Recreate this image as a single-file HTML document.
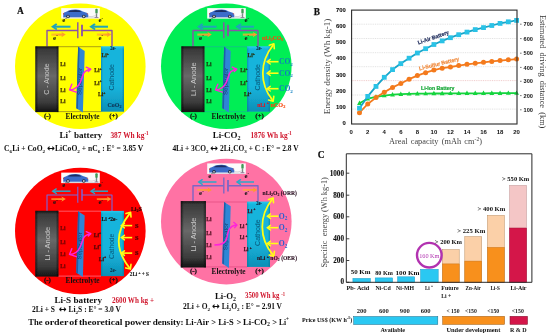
<!DOCTYPE html>
<html lang="en"><head><meta charset="utf-8"><title>Li battery chemistries</title>
<style>html,body{margin:0;padding:0;background:#fff}body{width:550px;height:334px;overflow:hidden}svg{display:block}text{white-space:pre}</style></head><body>
<svg width="550" height="334" viewBox="0 0 550 334">
<defs>
<linearGradient id="anV" x1="0" y1="0" x2="0" y2="1"><stop offset="0" stop-color="#151515"/><stop offset="0.05" stop-color="#3a3a3a"/><stop offset="0.45" stop-color="#686868"/><stop offset="0.85" stop-color="#3c3c3c"/><stop offset="1" stop-color="#121212"/></linearGradient>
<linearGradient id="anH" x1="0" y1="0" x2="1" y2="0"><stop offset="0" stop-color="#000" stop-opacity="0.65"/><stop offset="0.12" stop-color="#000" stop-opacity="0"/><stop offset="0.88" stop-color="#000" stop-opacity="0"/><stop offset="1" stop-color="#000" stop-opacity="0.55"/></linearGradient>
<linearGradient id="cat" x1="0" y1="0" x2="1" y2="0"><stop offset="0" stop-color="#0f93b8"/><stop offset="0.1" stop-color="#14b4dc"/><stop offset="0.9" stop-color="#14b4dc"/><stop offset="1" stop-color="#0f8fb2"/></linearGradient>
<linearGradient id="catV" x1="0" y1="0" x2="0" y2="1"><stop offset="0" stop-color="#3fe0ff" stop-opacity="0.6"/><stop offset="0.06" stop-color="#14b4dc" stop-opacity="0"/><stop offset="0.6" stop-color="#0a6f96" stop-opacity="0.0"/><stop offset="1" stop-color="#0a5f86" stop-opacity="0.45"/></linearGradient>
<linearGradient id="orG" x1="0" y1="0" x2="1" y2="0"><stop offset="0" stop-color="#ffb030" stop-opacity="0.7"/><stop offset="1" stop-color="#ff9a2e"/></linearGradient>
<filter id="soft" x="0" y="0" width="550" height="334" filterUnits="userSpaceOnUse"><feGaussianBlur stdDeviation="0.4"/></filter>
</defs>
<rect width="550" height="334" fill="#ffffff"/>
<g filter="url(#soft)">
<text x="17.00" y="13.70" font-size="9.80" fill="#111" font-weight="bold" font-family="'Liberation Serif', serif" textLength="6.80" lengthAdjust="spacingAndGlyphs" stroke="#111" stroke-width="0.20">A</text>
<g transform="translate(0.00 0.00)">
<ellipse cx="80.3" cy="66.3" rx="65.3" ry="62.8" fill="#ffff00"/>
</g>
<g transform="translate(0.00 0.00)">
<rect x="61.2" y="8.1" width="38.6" height="10.5" fill="#fbfbfb"/>
<rect x="63" y="17.5" width="35.5" height="0.7" fill="#c9c9d2"/>
<path d="M63.2 17.2 L63.3 13.4 Q63.8 12.3 65.8 12 L69.2 10.3 Q72 9.4 76 9.5 Q80.2 9.6 82.8 11.6 L86.6 12.7 Q88.3 13.3 88.3 15 L88.3 17.2 Z" fill="#3b6cc9"/>
<path d="M67.8 11.9 L70.2 10.5 Q73 9.9 76 10 Q79.4 10.1 81.6 11.9 Z" fill="#1d2f63"/>
<circle cx="68" cy="16.5" r="1.8" fill="#222a3a"/><circle cx="68" cy="16.5" r="0.9" fill="#c8ccd6"/>
<circle cx="83.8" cy="16.5" r="1.8" fill="#222a3a"/><circle cx="83.8" cy="16.5" r="0.9" fill="#c8ccd6"/>
<rect x="63" y="13.3" width="1" height="1.1" fill="#d23a3a"/>
<rect x="86.9" y="13.3" width="1.2" height="1" fill="#d86a6a"/>
<rect x="95.3" y="8.8" width="2.4" height="4.6" rx="0.9" fill="#3f9a55"/>
<rect x="95.8" y="13.4" width="1.4" height="4" fill="#7c8a86"/>
<rect x="94.6" y="17" width="3.8" height="0.8" fill="#8a6f96"/>
<path d="M88.5 16.4 Q92 17.2 95.6 15.6" stroke="#9a9aa8" stroke-width="0.4" fill="none"/>
</g>
<g transform="translate(0.00 0.00)">
<path d="M47 46.5 V30.5 H77.8 M82 30.5 H112 V46.5" stroke="#8a52a8" stroke-width="1.40" fill="none" stroke-linejoin="round"/>
<path d="M77.8 22.3 V38.3" stroke="#8a52a8" stroke-width="1.40"/>
<path d="M82 24.8 V36.3" stroke="#8a52a8" stroke-width="1.82"/>
</g>
<path d="M70.50 26.70 L53.50 26.70" stroke="#21a3b9" stroke-width="2.00" fill="none" stroke-linecap="butt"/>
<path d="M56.20 24.40 L52.70 26.70 L56.20 29.00" stroke="#21a3b9" stroke-width="1.90" fill="none" stroke-linejoin="miter" stroke-linecap="round"/>
<path d="M108.00 26.70 L91.80 26.70" stroke="#21a3b9" stroke-width="2.00" fill="none" stroke-linecap="butt"/>
<path d="M94.50 24.40 L91.00 26.70 L94.50 29.00" stroke="#21a3b9" stroke-width="1.90" fill="none" stroke-linejoin="miter" stroke-linecap="round"/>
<rect x="51.30" y="33.50" width="11.42" height="2.20" fill="url(#orG)"/>
<polygon points="61.40,31.90 65.80,34.60 61.40,37.30 62.50,34.60" fill="#ff9a2e"/>
<rect x="96.80" y="33.50" width="11.42" height="2.20" fill="url(#orG)"/>
<polygon points="106.90,31.90 111.30,34.60 106.90,37.30 108.00,34.60" fill="#ff9a2e"/>
<text x="62.20" y="22.40" font-size="7.00" fill="#111" font-weight="bold" font-family="'Liberation Serif', serif" textLength="4.60" lengthAdjust="spacingAndGlyphs">e<tspan dy="-2.52" font-size="4.76">-</tspan></text>
<text x="98.50" y="22.40" font-size="7.00" fill="#111" font-weight="bold" font-family="'Liberation Serif', serif" textLength="4.60" lengthAdjust="spacingAndGlyphs">e<tspan dy="-2.52" font-size="4.76">-</tspan></text>
<text x="53.10" y="39.80" font-size="7.00" fill="#111" font-weight="bold" font-family="'Liberation Serif', serif" textLength="4.60" lengthAdjust="spacingAndGlyphs">e<tspan dy="-2.52" font-size="4.76">-</tspan></text>
<text x="98.50" y="39.80" font-size="7.00" fill="#111" font-weight="bold" font-family="'Liberation Serif', serif" textLength="4.60" lengthAdjust="spacingAndGlyphs">e<tspan dy="-2.52" font-size="4.76">-</tspan></text>
<g transform="translate(0.00 0.00)">
<path d="M58 46.7 H101 M58 111.6 H101" stroke="#8a7a20" stroke-width="0.7" fill="none"/>
<rect x="35.4" y="46.3" width="23.0" height="65.8" fill="url(#anV)"/>
<rect x="35.4" y="46.3" width="23.0" height="65.8" fill="url(#anH)"/>
<polygon points="78.1,46.8 84.7,50.9 82.9,112.6 76.3,108.2" fill="#2f86d6"/>
<polygon points="78.1,46.8 79.6,47.8 77.9,109.3 76.3,108.2" fill="#1f5fa8"/>
<rect x="101" y="46.4" width="23" height="65.2" fill="url(#cat)"/>
<rect x="101" y="46.4" width="23" height="65.2" fill="url(#catV)"/>
</g>
<text x="49.50" y="94.70" font-size="7.20" fill="#c9c9c9" font-weight="normal" font-family="'Liberation Sans', sans-serif" textLength="31.30" lengthAdjust="spacingAndGlyphs" transform="rotate(-90.00 49.50 94.70)">C - Anode</text>
<text x="113.90" y="90.60" font-size="6.90" fill="#0a5578" font-weight="normal" font-family="'Liberation Sans', sans-serif" textLength="26.50" lengthAdjust="spacingAndGlyphs" transform="rotate(-90.00 113.90 90.60)">Cathode</text>
<text x="81.30" y="95.00" font-size="5.40" fill="#163258" font-weight="normal" font-family="'Liberation Sans', sans-serif" textLength="27.00" lengthAdjust="spacingAndGlyphs" transform="rotate(-88.50 81.30 95.00)">Separator</text>
<g transform="translate(0.00 0.00)">
<path d="M69.8 89.9 C74 89.6 78 87.2 80.1 82.7 C82 78.5 82.5 76 83.3 74 C84.5 71.3 87 70 90.4 69.3" stroke="#ff22dd" stroke-width="1.5" fill="none"/>
<path d="M71.8 84.2 L69.5 89.9 L76.3 92.2" stroke="#ff22dd" stroke-width="1.4" fill="none" stroke-linejoin="round" stroke-linecap="round"/>
<path d="M86.2 67.2 L90.8 69.2 L88.3 71.6" stroke="#ff22dd" stroke-width="1.4" fill="none" stroke-linejoin="round" stroke-linecap="round"/>
</g>
<text x="60.30" y="65.70" font-size="6.70" fill="#3a2a00" font-weight="bold" font-family="'Liberation Serif', serif" textLength="5.20" lengthAdjust="spacingAndGlyphs" stroke="#3a2a00" stroke-width="0.25">Li</text>
<text x="60.30" y="79.70" font-size="6.70" fill="#3a2a00" font-weight="bold" font-family="'Liberation Serif', serif" textLength="5.20" lengthAdjust="spacingAndGlyphs" stroke="#3a2a00" stroke-width="0.25">Li</text>
<text x="60.30" y="91.90" font-size="6.70" fill="#3a2a00" font-weight="bold" font-family="'Liberation Serif', serif" textLength="5.20" lengthAdjust="spacingAndGlyphs" stroke="#3a2a00" stroke-width="0.25">Li</text>
<text x="60.30" y="103.20" font-size="6.70" fill="#3a2a00" font-weight="bold" font-family="'Liberation Serif', serif" textLength="5.20" lengthAdjust="spacingAndGlyphs" stroke="#3a2a00" stroke-width="0.25">Li</text>
<text x="43.90" y="117.60" font-size="7.00" fill="#111" font-weight="bold" font-family="'Liberation Serif', serif" textLength="7.10" lengthAdjust="spacingAndGlyphs" stroke="#111" stroke-width="0.25">(-)</text>
<text x="65.60" y="118.70" font-size="7.60" fill="#111" font-weight="bold" font-family="'Liberation Serif', serif" textLength="34.00" lengthAdjust="spacingAndGlyphs">Electrolyte</text>
<text x="109.20" y="117.60" font-size="7.00" fill="#111" font-weight="bold" font-family="'Liberation Serif', serif" textLength="8.60" lengthAdjust="spacingAndGlyphs" stroke="#111" stroke-width="0.25">(+)</text>
<g transform="translate(146.00 0.00)">
<ellipse cx="80.3" cy="66.3" rx="65.3" ry="62.8" fill="#02ee55"/>
</g>
<g transform="translate(146.00 0.00)">
<rect x="61.2" y="8.1" width="38.6" height="10.5" fill="#fbfbfb"/>
<rect x="63" y="17.5" width="35.5" height="0.7" fill="#c9c9d2"/>
<path d="M63.2 17.2 L63.3 13.4 Q63.8 12.3 65.8 12 L69.2 10.3 Q72 9.4 76 9.5 Q80.2 9.6 82.8 11.6 L86.6 12.7 Q88.3 13.3 88.3 15 L88.3 17.2 Z" fill="#3b6cc9"/>
<path d="M67.8 11.9 L70.2 10.5 Q73 9.9 76 10 Q79.4 10.1 81.6 11.9 Z" fill="#1d2f63"/>
<circle cx="68" cy="16.5" r="1.8" fill="#222a3a"/><circle cx="68" cy="16.5" r="0.9" fill="#c8ccd6"/>
<circle cx="83.8" cy="16.5" r="1.8" fill="#222a3a"/><circle cx="83.8" cy="16.5" r="0.9" fill="#c8ccd6"/>
<rect x="63" y="13.3" width="1" height="1.1" fill="#d23a3a"/>
<rect x="86.9" y="13.3" width="1.2" height="1" fill="#d86a6a"/>
<rect x="95.3" y="8.8" width="2.4" height="4.6" rx="0.9" fill="#3f9a55"/>
<rect x="95.8" y="13.4" width="1.4" height="4" fill="#7c8a86"/>
<rect x="94.6" y="17" width="3.8" height="0.8" fill="#8a6f96"/>
<path d="M88.5 16.4 Q92 17.2 95.6 15.6" stroke="#9a9aa8" stroke-width="0.4" fill="none"/>
</g>
<g transform="translate(146.00 0.00)">
<path d="M47 46.5 V30.5 H77.8 M82 30.5 H112 V46.5" stroke="#8a52a8" stroke-width="1.40" fill="none" stroke-linejoin="round"/>
<path d="M77.8 22.3 V38.3" stroke="#8a52a8" stroke-width="1.40"/>
<path d="M82 24.8 V36.3" stroke="#8a52a8" stroke-width="1.82"/>
</g>
<path d="M216.50 26.70 L199.50 26.70" stroke="#21a3b9" stroke-width="2.00" fill="none" stroke-linecap="butt"/>
<path d="M202.20 24.40 L198.70 26.70 L202.20 29.00" stroke="#21a3b9" stroke-width="1.90" fill="none" stroke-linejoin="miter" stroke-linecap="round"/>
<path d="M254.00 26.70 L237.80 26.70" stroke="#21a3b9" stroke-width="2.00" fill="none" stroke-linecap="butt"/>
<path d="M240.50 24.40 L237.00 26.70 L240.50 29.00" stroke="#21a3b9" stroke-width="1.90" fill="none" stroke-linejoin="miter" stroke-linecap="round"/>
<rect x="197.30" y="33.50" width="11.42" height="2.20" fill="url(#orG)"/>
<polygon points="207.40,31.90 211.80,34.60 207.40,37.30 208.50,34.60" fill="#ff9a2e"/>
<rect x="242.80" y="33.50" width="11.42" height="2.20" fill="url(#orG)"/>
<polygon points="252.90,31.90 257.30,34.60 252.90,37.30 254.00,34.60" fill="#ff9a2e"/>
<text x="208.20" y="22.40" font-size="7.00" fill="#111" font-weight="bold" font-family="'Liberation Serif', serif" textLength="4.60" lengthAdjust="spacingAndGlyphs">e<tspan dy="-2.52" font-size="4.76">-</tspan></text>
<text x="244.50" y="22.40" font-size="7.00" fill="#111" font-weight="bold" font-family="'Liberation Serif', serif" textLength="4.60" lengthAdjust="spacingAndGlyphs">e<tspan dy="-2.52" font-size="4.76">-</tspan></text>
<text x="199.10" y="39.80" font-size="7.00" fill="#111" font-weight="bold" font-family="'Liberation Serif', serif" textLength="4.60" lengthAdjust="spacingAndGlyphs">e<tspan dy="-2.52" font-size="4.76">-</tspan></text>
<text x="244.50" y="39.80" font-size="7.00" fill="#111" font-weight="bold" font-family="'Liberation Serif', serif" textLength="4.60" lengthAdjust="spacingAndGlyphs">e<tspan dy="-2.52" font-size="4.76">-</tspan></text>
<g transform="translate(146.00 0.00)">
<path d="M58 46.7 H101 M58 111.6 H101" stroke="#18b890" stroke-width="0.7" fill="none"/>
<rect x="35.4" y="46.3" width="23.0" height="65.8" fill="url(#anV)"/>
<rect x="35.4" y="46.3" width="23.0" height="65.8" fill="url(#anH)"/>
<polygon points="78.1,46.8 84.7,50.9 82.9,112.6 76.3,108.2" fill="#2f86d6"/>
<polygon points="78.1,46.8 79.6,47.8 77.9,109.3 76.3,108.2" fill="#1f5fa8"/>
<rect x="101" y="46.4" width="23" height="65.2" fill="url(#cat)"/>
<rect x="101" y="46.4" width="23" height="65.2" fill="url(#catV)"/>
</g>
<text x="195.80" y="96.00" font-size="7.20" fill="#c9c9c9" font-weight="normal" font-family="'Liberation Sans', sans-serif" textLength="33.70" lengthAdjust="spacingAndGlyphs" transform="rotate(-90.00 195.80 96.00)">Li - Anode</text>
<text x="259.90" y="90.60" font-size="6.90" fill="#0a5578" font-weight="normal" font-family="'Liberation Sans', sans-serif" textLength="26.50" lengthAdjust="spacingAndGlyphs" transform="rotate(-90.00 259.90 90.60)">Cathode</text>
<text x="227.30" y="95.00" font-size="5.40" fill="#163258" font-weight="normal" font-family="'Liberation Sans', sans-serif" textLength="27.00" lengthAdjust="spacingAndGlyphs" transform="rotate(-88.50 227.30 95.00)">Separator</text>
<g transform="translate(146.00 0.00)">
<path d="M69.8 89.9 C74 89.6 78 87.2 80.1 82.7 C82 78.5 82.5 76 83.3 74 C84.5 71.3 87 70 90.4 69.3" stroke="#ff22dd" stroke-width="1.5" fill="none"/>
<path d="M71.8 84.2 L69.5 89.9 L76.3 92.2" stroke="#ff22dd" stroke-width="1.4" fill="none" stroke-linejoin="round" stroke-linecap="round"/>
<path d="M86.2 67.2 L90.8 69.2 L88.3 71.6" stroke="#ff22dd" stroke-width="1.4" fill="none" stroke-linejoin="round" stroke-linecap="round"/>
</g>
<text x="206.30" y="65.70" font-size="6.70" fill="#16300a" font-weight="bold" font-family="'Liberation Serif', serif" textLength="5.20" lengthAdjust="spacingAndGlyphs" stroke="#16300a" stroke-width="0.25">Li</text>
<text x="206.30" y="79.70" font-size="6.70" fill="#16300a" font-weight="bold" font-family="'Liberation Serif', serif" textLength="5.20" lengthAdjust="spacingAndGlyphs" stroke="#16300a" stroke-width="0.25">Li</text>
<text x="206.30" y="91.90" font-size="6.70" fill="#16300a" font-weight="bold" font-family="'Liberation Serif', serif" textLength="5.20" lengthAdjust="spacingAndGlyphs" stroke="#16300a" stroke-width="0.25">Li</text>
<text x="206.30" y="103.20" font-size="6.70" fill="#16300a" font-weight="bold" font-family="'Liberation Serif', serif" textLength="5.20" lengthAdjust="spacingAndGlyphs" stroke="#16300a" stroke-width="0.25">Li</text>
<text x="189.90" y="117.60" font-size="7.00" fill="#111" font-weight="bold" font-family="'Liberation Serif', serif" textLength="7.10" lengthAdjust="spacingAndGlyphs" stroke="#111" stroke-width="0.25">(-)</text>
<text x="211.60" y="118.70" font-size="7.60" fill="#111" font-weight="bold" font-family="'Liberation Serif', serif" textLength="34.00" lengthAdjust="spacingAndGlyphs">Electrolyte</text>
<text x="255.20" y="117.60" font-size="7.00" fill="#111" font-weight="bold" font-family="'Liberation Serif', serif" textLength="8.60" lengthAdjust="spacingAndGlyphs" stroke="#111" stroke-width="0.25">(+)</text>
<g transform="translate(0.00 164.50)">
<ellipse cx="80.3" cy="66.5" rx="65.3" ry="63.2" fill="#ff0000"/>
</g>
<g transform="translate(0.00 164.50)">
<rect x="61.2" y="8.1" width="38.6" height="10.5" fill="#fbfbfb"/>
<rect x="63" y="17.5" width="35.5" height="0.7" fill="#c9c9d2"/>
<path d="M63.2 17.2 L63.3 13.4 Q63.8 12.3 65.8 12 L69.2 10.3 Q72 9.4 76 9.5 Q80.2 9.6 82.8 11.6 L86.6 12.7 Q88.3 13.3 88.3 15 L88.3 17.2 Z" fill="#3b6cc9"/>
<path d="M67.8 11.9 L70.2 10.5 Q73 9.9 76 10 Q79.4 10.1 81.6 11.9 Z" fill="#1d2f63"/>
<circle cx="68" cy="16.5" r="1.8" fill="#222a3a"/><circle cx="68" cy="16.5" r="0.9" fill="#c8ccd6"/>
<circle cx="83.8" cy="16.5" r="1.8" fill="#222a3a"/><circle cx="83.8" cy="16.5" r="0.9" fill="#c8ccd6"/>
<rect x="63" y="13.3" width="1" height="1.1" fill="#d23a3a"/>
<rect x="86.9" y="13.3" width="1.2" height="1" fill="#d86a6a"/>
<rect x="95.3" y="8.8" width="2.4" height="4.6" rx="0.9" fill="#3f9a55"/>
<rect x="95.8" y="13.4" width="1.4" height="4" fill="#7c8a86"/>
<rect x="94.6" y="17" width="3.8" height="0.8" fill="#8a6f96"/>
<path d="M88.5 16.4 Q92 17.2 95.6 15.6" stroke="#9a9aa8" stroke-width="0.4" fill="none"/>
</g>
<g transform="translate(0.00 164.50)">
<path d="M47 46.5 V30.5 H77.8 M82 30.5 H112 V46.5" stroke="#7868dc" stroke-width="1.10" fill="none" stroke-linejoin="round"/>
<path d="M77.8 22.3 V38.3" stroke="#7868dc" stroke-width="1.10"/>
<path d="M82 24.8 V36.3" stroke="#7868dc" stroke-width="1.43"/>
</g>
<path d="M70.50 191.20 L53.50 191.20" stroke="#2aa8c8" stroke-width="1.50" fill="none" stroke-linecap="butt"/>
<path d="M56.20 188.90 L52.70 191.20 L56.20 193.50" stroke="#2aa8c8" stroke-width="1.42" fill="none" stroke-linejoin="miter" stroke-linecap="round"/>
<path d="M108.00 191.20 L91.80 191.20" stroke="#2aa8c8" stroke-width="1.50" fill="none" stroke-linecap="butt"/>
<path d="M94.50 188.90 L91.00 191.20 L94.50 193.50" stroke="#2aa8c8" stroke-width="1.42" fill="none" stroke-linejoin="miter" stroke-linecap="round"/>
<rect x="51.30" y="198.25" width="11.42" height="1.70" fill="url(#orG)"/>
<polygon points="61.40,196.40 65.80,199.10 61.40,201.80 62.50,199.10" fill="#ff9a2e"/>
<rect x="96.80" y="198.25" width="11.42" height="1.70" fill="url(#orG)"/>
<polygon points="106.90,196.40 111.30,199.10 106.90,201.80 108.00,199.10" fill="#ff9a2e"/>
<text x="62.20" y="186.90" font-size="7.00" fill="#111" font-weight="bold" font-family="'Liberation Serif', serif" textLength="4.60" lengthAdjust="spacingAndGlyphs">e<tspan dy="-2.52" font-size="4.76">-</tspan></text>
<text x="98.50" y="186.90" font-size="7.00" fill="#111" font-weight="bold" font-family="'Liberation Serif', serif" textLength="4.60" lengthAdjust="spacingAndGlyphs">e<tspan dy="-2.52" font-size="4.76">-</tspan></text>
<text x="53.10" y="204.30" font-size="7.00" fill="#111" font-weight="bold" font-family="'Liberation Serif', serif" textLength="4.60" lengthAdjust="spacingAndGlyphs">e<tspan dy="-2.52" font-size="4.76">-</tspan></text>
<text x="98.50" y="204.30" font-size="7.00" fill="#111" font-weight="bold" font-family="'Liberation Serif', serif" textLength="4.60" lengthAdjust="spacingAndGlyphs">e<tspan dy="-2.52" font-size="4.76">-</tspan></text>
<g transform="translate(0.00 164.50)">
<path d="M58 46.7 H101 M58 111.6 H101" stroke="#ff7a90" stroke-width="0.7" fill="none"/>
<rect x="35.4" y="46.3" width="23.0" height="65.8" fill="url(#anV)"/>
<rect x="35.4" y="46.3" width="23.0" height="65.8" fill="url(#anH)"/>
<polygon points="78.1,46.8 84.7,50.9 82.9,112.6 76.3,108.2" fill="#2f86d6"/>
<polygon points="78.1,46.8 79.6,47.8 77.9,109.3 76.3,108.2" fill="#1f5fa8"/>
<rect x="101" y="46.4" width="23" height="65.2" fill="url(#cat)"/>
<rect x="101" y="46.4" width="23" height="65.2" fill="url(#catV)"/>
</g>
<text x="49.80" y="260.50" font-size="7.20" fill="#c9c9c9" font-weight="normal" font-family="'Liberation Sans', sans-serif" textLength="33.70" lengthAdjust="spacingAndGlyphs" transform="rotate(-90.00 49.80 260.50)">Li - Anode</text>
<text x="113.90" y="258.90" font-size="6.90" fill="#0a5578" font-weight="normal" font-family="'Liberation Sans', sans-serif" textLength="25.20" lengthAdjust="spacingAndGlyphs" transform="rotate(-90.00 113.90 258.90)">Cathode</text>
<text x="81.30" y="259.50" font-size="5.40" fill="#163258" font-weight="normal" font-family="'Liberation Sans', sans-serif" textLength="27.00" lengthAdjust="spacingAndGlyphs" transform="rotate(-88.50 81.30 259.50)">Separator</text>
<g transform="translate(0.00 164.50)">
<path d="M69.8 89.9 C74 89.6 78 87.2 80.1 82.7 C82 78.5 82.5 76 83.3 74 C84.5 71.3 87 70 90.4 69.3" stroke="#ff22dd" stroke-width="1.5" fill="none"/>
<path d="M71.8 84.2 L69.5 89.9 L76.3 92.2" stroke="#ff22dd" stroke-width="1.4" fill="none" stroke-linejoin="round" stroke-linecap="round"/>
<path d="M86.2 67.2 L90.8 69.2 L88.3 71.6" stroke="#ff22dd" stroke-width="1.4" fill="none" stroke-linejoin="round" stroke-linecap="round"/>
</g>
<text x="60.30" y="230.20" font-size="6.70" fill="#6a0000" font-weight="bold" font-family="'Liberation Serif', serif" textLength="5.20" lengthAdjust="spacingAndGlyphs" stroke="#6a0000" stroke-width="0.25">Li</text>
<text x="60.30" y="244.20" font-size="6.70" fill="#6a0000" font-weight="bold" font-family="'Liberation Serif', serif" textLength="5.20" lengthAdjust="spacingAndGlyphs" stroke="#6a0000" stroke-width="0.25">Li</text>
<text x="60.30" y="256.40" font-size="6.70" fill="#6a0000" font-weight="bold" font-family="'Liberation Serif', serif" textLength="5.20" lengthAdjust="spacingAndGlyphs" stroke="#6a0000" stroke-width="0.25">Li</text>
<text x="60.30" y="267.70" font-size="6.70" fill="#6a0000" font-weight="bold" font-family="'Liberation Serif', serif" textLength="5.20" lengthAdjust="spacingAndGlyphs" stroke="#6a0000" stroke-width="0.25">Li</text>
<text x="43.90" y="282.10" font-size="7.00" fill="#111" font-weight="bold" font-family="'Liberation Serif', serif" textLength="7.10" lengthAdjust="spacingAndGlyphs" stroke="#111" stroke-width="0.25">(-)</text>
<text x="65.60" y="283.20" font-size="7.60" fill="#111" font-weight="bold" font-family="'Liberation Serif', serif" textLength="34.00" lengthAdjust="spacingAndGlyphs">Electrolyte</text>
<text x="109.20" y="282.10" font-size="7.00" fill="#111" font-weight="bold" font-family="'Liberation Serif', serif" textLength="8.60" lengthAdjust="spacingAndGlyphs" stroke="#111" stroke-width="0.25">(+)</text>
<g transform="translate(146.00 155.30)">
<ellipse cx="80.3" cy="66.3" rx="65.3" ry="62.8" fill="#ff72a4"/>
</g>
<g transform="translate(146.00 155.30)">
<rect x="61.2" y="8.1" width="38.6" height="10.5" fill="#fbfbfb"/>
<rect x="63" y="17.5" width="35.5" height="0.7" fill="#c9c9d2"/>
<path d="M63.2 17.2 L63.3 13.4 Q63.8 12.3 65.8 12 L69.2 10.3 Q72 9.4 76 9.5 Q80.2 9.6 82.8 11.6 L86.6 12.7 Q88.3 13.3 88.3 15 L88.3 17.2 Z" fill="#3b6cc9"/>
<path d="M67.8 11.9 L70.2 10.5 Q73 9.9 76 10 Q79.4 10.1 81.6 11.9 Z" fill="#1d2f63"/>
<circle cx="68" cy="16.5" r="1.8" fill="#222a3a"/><circle cx="68" cy="16.5" r="0.9" fill="#c8ccd6"/>
<circle cx="83.8" cy="16.5" r="1.8" fill="#222a3a"/><circle cx="83.8" cy="16.5" r="0.9" fill="#c8ccd6"/>
<rect x="63" y="13.3" width="1" height="1.1" fill="#d23a3a"/>
<rect x="86.9" y="13.3" width="1.2" height="1" fill="#d86a6a"/>
<rect x="95.3" y="8.8" width="2.4" height="4.6" rx="0.9" fill="#3f9a55"/>
<rect x="95.8" y="13.4" width="1.4" height="4" fill="#7c8a86"/>
<rect x="94.6" y="17" width="3.8" height="0.8" fill="#8a6f96"/>
<path d="M88.5 16.4 Q92 17.2 95.6 15.6" stroke="#9a9aa8" stroke-width="0.4" fill="none"/>
</g>
<g transform="translate(146.00 155.30)">
<path d="M47 46.5 V30.5 H77.8 M82 30.5 H112 V46.5" stroke="#7d66c4" stroke-width="1.40" fill="none" stroke-linejoin="round"/>
<path d="M77.8 22.3 V38.3" stroke="#7d66c4" stroke-width="1.40"/>
<path d="M82 24.8 V36.3" stroke="#7d66c4" stroke-width="1.82"/>
</g>
<path d="M216.50 182.00 L199.50 182.00" stroke="#2aa8c8" stroke-width="1.50" fill="none" stroke-linecap="butt"/>
<path d="M202.20 179.70 L198.70 182.00 L202.20 184.30" stroke="#2aa8c8" stroke-width="1.42" fill="none" stroke-linejoin="miter" stroke-linecap="round"/>
<path d="M254.00 182.00 L237.80 182.00" stroke="#2aa8c8" stroke-width="1.50" fill="none" stroke-linecap="butt"/>
<path d="M240.50 179.70 L237.00 182.00 L240.50 184.30" stroke="#2aa8c8" stroke-width="1.42" fill="none" stroke-linejoin="miter" stroke-linecap="round"/>
<rect x="197.30" y="189.05" width="11.42" height="1.70" fill="url(#orG)"/>
<polygon points="207.40,187.20 211.80,189.90 207.40,192.60 208.50,189.90" fill="#ff9a2e"/>
<rect x="242.80" y="189.05" width="11.42" height="1.70" fill="url(#orG)"/>
<polygon points="252.90,187.20 257.30,189.90 252.90,192.60 254.00,189.90" fill="#ff9a2e"/>
<text x="208.20" y="177.70" font-size="7.00" fill="#111" font-weight="bold" font-family="'Liberation Serif', serif" textLength="4.60" lengthAdjust="spacingAndGlyphs">e<tspan dy="-2.52" font-size="4.76">-</tspan></text>
<text x="244.50" y="177.70" font-size="7.00" fill="#111" font-weight="bold" font-family="'Liberation Serif', serif" textLength="4.60" lengthAdjust="spacingAndGlyphs">e<tspan dy="-2.52" font-size="4.76">-</tspan></text>
<text x="199.10" y="195.10" font-size="7.00" fill="#111" font-weight="bold" font-family="'Liberation Serif', serif" textLength="4.60" lengthAdjust="spacingAndGlyphs">e<tspan dy="-2.52" font-size="4.76">-</tspan></text>
<text x="244.50" y="195.10" font-size="7.00" fill="#111" font-weight="bold" font-family="'Liberation Serif', serif" textLength="4.60" lengthAdjust="spacingAndGlyphs">e<tspan dy="-2.52" font-size="4.76">-</tspan></text>
<g transform="translate(146.00 155.30)">
<path d="M58 46.7 H101 M58 111.6 H101" stroke="#e04880" stroke-width="0.7" fill="none"/>
<rect x="34.8" y="45.8" width="25.1" height="66.4" fill="url(#anV)"/>
<rect x="34.8" y="45.8" width="25.1" height="66.4" fill="url(#anH)"/>
<polygon points="78.1,46.8 84.7,50.9 82.9,112.6 76.3,108.2" fill="#2f86d6"/>
<polygon points="78.1,46.8 79.6,47.8 77.9,109.3 76.3,108.2" fill="#1f5fa8"/>
<rect x="101" y="46.4" width="23" height="65.2" fill="url(#cat)"/>
<rect x="101" y="46.4" width="23" height="65.2" fill="url(#catV)"/>
</g>
<text x="195.80" y="251.30" font-size="7.20" fill="#c9c9c9" font-weight="normal" font-family="'Liberation Sans', sans-serif" textLength="33.70" lengthAdjust="spacingAndGlyphs" transform="rotate(-90.00 195.80 251.30)">Li - Anode</text>
<text x="259.90" y="245.90" font-size="6.90" fill="#0a5578" font-weight="normal" font-family="'Liberation Sans', sans-serif" textLength="26.50" lengthAdjust="spacingAndGlyphs" transform="rotate(-90.00 259.90 245.90)">Cathode</text>
<text x="227.30" y="250.30" font-size="5.40" fill="#163258" font-weight="normal" font-family="'Liberation Sans', sans-serif" textLength="27.00" lengthAdjust="spacingAndGlyphs" transform="rotate(-88.50 227.30 250.30)">Separator</text>
<g transform="translate(146.00 155.30)">
<path d="M68.4 89.8 C75 89.6 79.5 88.4 81 82 C82 75.6 83 71 90.4 69.8" stroke="#ff22dd" stroke-width="1.5" fill="none"/>
<path d="M87.4 66.6 L91 69.7 L88.2 72.8" stroke="#ff22dd" stroke-width="1.3" fill="none"/>
</g>
<text x="206.30" y="221.00" font-size="6.70" fill="#4a0a1a" font-weight="bold" font-family="'Liberation Serif', serif" textLength="5.20" lengthAdjust="spacingAndGlyphs" stroke="#4a0a1a" stroke-width="0.25">Li</text>
<text x="206.30" y="235.00" font-size="6.70" fill="#4a0a1a" font-weight="bold" font-family="'Liberation Serif', serif" textLength="5.20" lengthAdjust="spacingAndGlyphs" stroke="#4a0a1a" stroke-width="0.25">Li</text>
<text x="206.30" y="247.20" font-size="6.70" fill="#4a0a1a" font-weight="bold" font-family="'Liberation Serif', serif" textLength="5.20" lengthAdjust="spacingAndGlyphs" stroke="#4a0a1a" stroke-width="0.25">Li</text>
<text x="206.30" y="258.50" font-size="6.70" fill="#4a0a1a" font-weight="bold" font-family="'Liberation Serif', serif" textLength="5.20" lengthAdjust="spacingAndGlyphs" stroke="#4a0a1a" stroke-width="0.25">Li</text>
<text x="189.90" y="272.90" font-size="7.00" fill="#111" font-weight="bold" font-family="'Liberation Serif', serif" textLength="7.10" lengthAdjust="spacingAndGlyphs" stroke="#111" stroke-width="0.25">(-)</text>
<text x="211.60" y="274.00" font-size="7.60" fill="#111" font-weight="bold" font-family="'Liberation Serif', serif" textLength="34.00" lengthAdjust="spacingAndGlyphs">Electrolyte</text>
<text x="255.20" y="272.90" font-size="7.00" fill="#111" font-weight="bold" font-family="'Liberation Serif', serif" textLength="8.60" lengthAdjust="spacingAndGlyphs" stroke="#111" stroke-width="0.25">(+)</text>
<text x="101.60" y="57.30" font-size="6.80" fill="#3a2a00" font-weight="bold" font-family="'Liberation Serif', serif" textLength="7.40" lengthAdjust="spacingAndGlyphs" stroke="#3a2a00" stroke-width="0.25">Li<tspan dy="-2.45" font-size="4.62">+</tspan></text>
<text x="94.20" y="72.00" font-size="6.80" fill="#3a2a00" font-weight="bold" font-family="'Liberation Serif', serif" textLength="7.40" lengthAdjust="spacingAndGlyphs" stroke="#3a2a00" stroke-width="0.25">Li<tspan dy="-2.45" font-size="4.62">+</tspan></text>
<text x="94.20" y="84.50" font-size="6.80" fill="#3a2a00" font-weight="bold" font-family="'Liberation Serif', serif" textLength="7.40" lengthAdjust="spacingAndGlyphs" stroke="#3a2a00" stroke-width="0.25">Li<tspan dy="-2.45" font-size="4.62">+</tspan></text>
<text x="98.00" y="96.00" font-size="6.80" fill="#3a2a00" font-weight="bold" font-family="'Liberation Serif', serif" textLength="7.40" lengthAdjust="spacingAndGlyphs" stroke="#3a2a00" stroke-width="0.25">Li<tspan dy="-2.45" font-size="4.62">+</tspan></text>
<text x="110.30" y="49.80" font-size="5.60" fill="#0a2038" font-weight="bold" font-family="'Liberation Serif', serif" textLength="5.60" lengthAdjust="spacingAndGlyphs" stroke="#0a2038" stroke-width="0.15">2e-</text>
<text x="107.60" y="106.90" font-size="7.00" fill="#083a5c" font-weight="bold" font-family="'Liberation Serif', serif" textLength="13.80" lengthAdjust="spacingAndGlyphs" stroke="#083a5c" stroke-width="0.20">CoO<tspan dy="1.40" font-size="4.76">2</tspan></text>
<text x="59.50" y="137.80" font-size="9.20" fill="#111" font-weight="bold" font-family="'Liberation Serif', serif" textLength="42.80" lengthAdjust="spacingAndGlyphs">Li<tspan dy="-3.31" font-size="6.26">+</tspan><tspan dy="3.31"> battery</tspan></text>
<text x="110.40" y="138.10" font-size="7.70" fill="#d0162c" font-weight="bold" font-family="'Liberation Serif', serif" textLength="38.20" lengthAdjust="spacingAndGlyphs">387 Wh kg<tspan dy="-2.77" font-size="5.24">-1</tspan></text>
<text x="4.10" y="151.10" font-size="7.20" fill="#111" font-weight="bold" font-family="'Liberation Serif', serif" textLength="139.10" lengthAdjust="spacingAndGlyphs">C<tspan dy="1.44" font-size="4.90">6</tspan><tspan dy="-1.44">Li + CoO</tspan><tspan dy="1.44" font-size="4.90">2</tspan><tspan dy="-1.44"> </tspan><tspan font-family="'DejaVu Sans', sans-serif" font-size="9.00">↔</tspan>LiCoO<tspan dy="1.44" font-size="4.90">2</tspan><tspan dy="-1.44"> + nC</tspan><tspan dy="1.44" font-size="4.90">6</tspan><tspan dy="-1.44"> : E° = 3.85 V</tspan></text>
<text x="247.60" y="57.30" font-size="6.80" fill="#26300a" font-weight="bold" font-family="'Liberation Serif', serif" textLength="7.40" lengthAdjust="spacingAndGlyphs" stroke="#26300a" stroke-width="0.25">Li<tspan dy="-2.45" font-size="4.62">+</tspan></text>
<text x="240.20" y="72.00" font-size="6.80" fill="#26300a" font-weight="bold" font-family="'Liberation Serif', serif" textLength="7.40" lengthAdjust="spacingAndGlyphs" stroke="#26300a" stroke-width="0.25">Li<tspan dy="-2.45" font-size="4.62">+</tspan></text>
<text x="240.20" y="84.50" font-size="6.80" fill="#26300a" font-weight="bold" font-family="'Liberation Serif', serif" textLength="7.40" lengthAdjust="spacingAndGlyphs" stroke="#26300a" stroke-width="0.25">Li<tspan dy="-2.45" font-size="4.62">+</tspan></text>
<text x="244.00" y="96.00" font-size="6.80" fill="#26300a" font-weight="bold" font-family="'Liberation Serif', serif" textLength="7.40" lengthAdjust="spacingAndGlyphs" stroke="#26300a" stroke-width="0.25">Li<tspan dy="-2.45" font-size="4.62">+</tspan></text>
<text x="256.30" y="49.80" font-size="5.60" fill="#0a2038" font-weight="bold" font-family="'Liberation Serif', serif" textLength="5.60" lengthAdjust="spacingAndGlyphs" stroke="#0a2038" stroke-width="0.15">2e-</text>
<text x="262.00" y="39.60" font-size="6.60" fill="#f8480e" font-weight="bold" font-family="'Liberation Serif', serif" textLength="21.20" lengthAdjust="spacingAndGlyphs" stroke="#f8480e" stroke-width="0.15">nLi<tspan dy="1.32" font-size="4.49">2</tspan><tspan dy="-1.32">CO</tspan><tspan dy="1.32" font-size="4.49">3</tspan></text>
<path d="M273.2 45 C259.5 62 259.5 84 272.4 100" stroke="#ffff14" stroke-width="1.8" fill="none"/>
<path d="M269.3 45.3 L273.9 43.8 L274.3 48.6" stroke="#ffff14" stroke-width="1.6" fill="none" stroke-linejoin="round" stroke-linecap="round"/>
<path d="M273.8 96.4 L273.2 101.2 L268.6 100" stroke="#ffff14" stroke-width="1.6" fill="none" stroke-linejoin="round" stroke-linecap="round"/>
<path d="M278.50 61.70 L268.00 61.70" stroke="#ffff14" stroke-width="1.60" fill="none" stroke-linecap="butt"/>
<path d="M270.20 59.40 L267.20 61.70 L270.20 64.00" stroke="#ffff14" stroke-width="1.52" fill="none" stroke-linejoin="miter" stroke-linecap="round"/>
<text x="278.90" y="64.10" font-size="7.30" fill="#0f7cc0" font-weight="bold" font-family="'Liberation Serif', serif" textLength="14.00" lengthAdjust="spacingAndGlyphs">CO<tspan dy="1.46" font-size="4.96">2</tspan></text>
<path d="M278.50 73.20 L268.00 73.20" stroke="#ffff14" stroke-width="1.60" fill="none" stroke-linecap="butt"/>
<path d="M270.20 70.90 L267.20 73.20 L270.20 75.50" stroke="#ffff14" stroke-width="1.52" fill="none" stroke-linejoin="miter" stroke-linecap="round"/>
<text x="278.90" y="75.60" font-size="7.30" fill="#0f7cc0" font-weight="bold" font-family="'Liberation Serif', serif" textLength="14.00" lengthAdjust="spacingAndGlyphs">CO<tspan dy="1.46" font-size="4.96">2</tspan></text>
<path d="M278.50 88.70 L268.00 88.70" stroke="#ffff14" stroke-width="1.60" fill="none" stroke-linecap="butt"/>
<path d="M270.20 86.40 L267.20 88.70 L270.20 91.00" stroke="#ffff14" stroke-width="1.52" fill="none" stroke-linejoin="miter" stroke-linecap="round"/>
<text x="278.90" y="91.10" font-size="7.30" fill="#0f7cc0" font-weight="bold" font-family="'Liberation Serif', serif" textLength="14.00" lengthAdjust="spacingAndGlyphs">CO<tspan dy="1.46" font-size="4.96">2</tspan></text>
<text x="257.30" y="106.50" font-size="6.00" fill="#e3141e" font-weight="bold" font-family="'Liberation Serif', serif" textLength="11.50" lengthAdjust="spacingAndGlyphs" stroke="#e3141e" stroke-width="0.15">nLi <tspan dy="-2.16" font-size="4.08">+</tspan></text>
<text x="270.40" y="106.50" font-size="6.00" fill="#f8480e" font-weight="bold" font-family="'Liberation Serif', serif" textLength="14.90" lengthAdjust="spacingAndGlyphs" stroke="#f8480e" stroke-width="0.15">nCO<tspan dy="1.20" font-size="4.08">2</tspan></text>
<text x="212.70" y="137.80" font-size="9.20" fill="#111" font-weight="bold" font-family="'Liberation Serif', serif" textLength="27.80" lengthAdjust="spacingAndGlyphs">Li-CO<tspan dy="1.84" font-size="6.26">2</tspan></text>
<text x="250.40" y="138.10" font-size="7.70" fill="#d0162c" font-weight="bold" font-family="'Liberation Serif', serif" textLength="41.40" lengthAdjust="spacingAndGlyphs">1876 Wh kg<tspan dy="-2.77" font-size="5.24">-1</tspan></text>
<text x="172.40" y="151.20" font-size="7.20" fill="#111" font-weight="bold" font-family="'Liberation Serif', serif" textLength="126.20" lengthAdjust="spacingAndGlyphs">4Li + 3CO<tspan dy="1.44" font-size="4.90">2</tspan><tspan dy="-1.44"> </tspan><tspan font-family="'DejaVu Sans', sans-serif" font-size="9.00">↔</tspan> 2Li<tspan dy="1.44" font-size="4.90">2</tspan><tspan dy="-1.44">CO</tspan><tspan dy="1.44" font-size="4.90">3</tspan><tspan dy="-1.44"> + C : E° = 2.8 V</tspan></text>
<text x="101.60" y="221.40" font-size="6.80" fill="#1a1010" font-weight="bold" font-family="'Liberation Serif', serif" textLength="15.70" lengthAdjust="spacingAndGlyphs" stroke="#1a1010" stroke-width="0.20">Li <tspan dy="-2.45" font-size="4.62">+</tspan><tspan dy="2.45">2e-</tspan></text>
<text x="93.80" y="236.90" font-size="6.80" fill="#4a0a0a" font-weight="bold" font-family="'Liberation Serif', serif" textLength="7.40" lengthAdjust="spacingAndGlyphs" stroke="#4a0a0a" stroke-width="0.25">Li<tspan dy="-2.45" font-size="4.62">+</tspan></text>
<text x="93.80" y="248.90" font-size="6.80" fill="#4a0a0a" font-weight="bold" font-family="'Liberation Serif', serif" textLength="7.40" lengthAdjust="spacingAndGlyphs" stroke="#4a0a0a" stroke-width="0.25">Li<tspan dy="-2.45" font-size="4.62">+</tspan></text>
<text x="98.70" y="260.60" font-size="6.80" fill="#4a0a0a" font-weight="bold" font-family="'Liberation Serif', serif" textLength="7.40" lengthAdjust="spacingAndGlyphs" stroke="#4a0a0a" stroke-width="0.25">Li<tspan dy="-2.45" font-size="4.62">+</tspan></text>
<text x="110.00" y="272.00" font-size="6.20" fill="#102030" font-weight="bold" font-family="'Liberation Serif', serif" textLength="6.40" lengthAdjust="spacingAndGlyphs">2e-</text>
<text x="130.90" y="211.00" font-size="7.00" fill="#3a0808" font-weight="bold" font-family="'Liberation Serif', serif" textLength="11.00" lengthAdjust="spacingAndGlyphs" stroke="#3a0808" stroke-width="0.20">Li<tspan dy="1.40" font-size="4.76">2</tspan><tspan dy="-1.40">S</tspan></text>
<path d="M129.8 213.4 C115 232 115 250 129.6 268" stroke="#ffff14" stroke-width="1.8" fill="none"/>
<path d="M126 213.6 L130.6 212.2 L131 217" stroke="#ffff14" stroke-width="1.6" fill="none" stroke-linejoin="round" stroke-linecap="round"/>
<path d="M131 264.3 L130.4 269.1 L125.8 267.9" stroke="#ffff14" stroke-width="1.6" fill="none" stroke-linejoin="round" stroke-linecap="round"/>
<path d="M132.20 225.60 L122.20 225.60" stroke="#ffff14" stroke-width="1.60" fill="none" stroke-linecap="butt"/>
<path d="M124.40 223.30 L121.40 225.60 L124.40 227.90" stroke="#ffff14" stroke-width="1.52" fill="none" stroke-linejoin="miter" stroke-linecap="round"/>
<text x="135.10" y="227.90" font-size="6.80" fill="#4a0808" font-weight="bold" font-family="'Liberation Serif', serif" textLength="3.60" lengthAdjust="spacingAndGlyphs" stroke="#4a0808" stroke-width="0.20">S</text>
<path d="M132.20 237.60 L122.20 237.60" stroke="#ffff14" stroke-width="1.60" fill="none" stroke-linecap="butt"/>
<path d="M124.40 235.30 L121.40 237.60 L124.40 239.90" stroke="#ffff14" stroke-width="1.52" fill="none" stroke-linejoin="miter" stroke-linecap="round"/>
<text x="135.10" y="239.90" font-size="6.80" fill="#4a0808" font-weight="bold" font-family="'Liberation Serif', serif" textLength="3.60" lengthAdjust="spacingAndGlyphs" stroke="#4a0808" stroke-width="0.20">S</text>
<path d="M132.20 253.10 L122.20 253.10" stroke="#ffff14" stroke-width="1.60" fill="none" stroke-linecap="butt"/>
<path d="M124.40 250.80 L121.40 253.10 L124.40 255.40" stroke="#ffff14" stroke-width="1.52" fill="none" stroke-linejoin="miter" stroke-linecap="round"/>
<text x="135.10" y="255.40" font-size="6.80" fill="#4a0808" font-weight="bold" font-family="'Liberation Serif', serif" textLength="3.60" lengthAdjust="spacingAndGlyphs" stroke="#4a0808" stroke-width="0.20">S</text>
<text x="129.80" y="276.20" font-size="6.20" fill="#111" font-weight="bold" font-family="'Liberation Serif', serif" textLength="19.20" lengthAdjust="spacingAndGlyphs" stroke="#111" stroke-width="0.12">2Li <tspan dy="-2.23" font-size="4.22">+</tspan><tspan dy="2.23"> + S</tspan></text>
<text x="54.40" y="302.80" font-size="9.20" fill="#111" font-weight="bold" font-family="'Liberation Serif', serif" textLength="47.60" lengthAdjust="spacingAndGlyphs">Li-S battery</text>
<text x="112.00" y="302.70" font-size="7.70" fill="#d0162c" font-weight="bold" font-family="'Liberation Serif', serif" textLength="42.00" lengthAdjust="spacingAndGlyphs">2600 Wh kg +</text>
<text x="32.00" y="312.40" font-size="7.20" fill="#111" font-weight="bold" font-family="'Liberation Serif', serif" textLength="89.00" lengthAdjust="spacingAndGlyphs">2Li + S  <tspan font-family="'DejaVu Sans', sans-serif" font-size="9.00">↔</tspan> Li<tspan dy="1.44" font-size="4.90">2</tspan><tspan dy="-1.44">S : E° = 3.0 V</tspan></text>
<text x="28.20" y="324.60" font-size="8.90" fill="#111" font-weight="bold" font-family="'Liberation Serif', serif" textLength="14.30" lengthAdjust="spacingAndGlyphs">The</text>
<text x="44.70" y="324.60" font-size="8.90" fill="#111" font-weight="bold" font-family="'Liberation Serif', serif" textLength="23.70" lengthAdjust="spacingAndGlyphs">order</text>
<text x="69.30" y="324.60" font-size="8.90" fill="#111" font-weight="bold" font-family="'Liberation Serif', serif" textLength="8.20" lengthAdjust="spacingAndGlyphs">of</text>
<text x="78.90" y="324.60" font-size="8.90" fill="#111" font-weight="bold" font-family="'Liberation Serif', serif" textLength="43.60" lengthAdjust="spacingAndGlyphs">theoretical</text>
<text x="124.70" y="324.60" font-size="8.90" fill="#111" font-weight="bold" font-family="'Liberation Serif', serif" textLength="26.30" lengthAdjust="spacingAndGlyphs">power</text>
<text x="152.70" y="324.60" font-size="8.90" fill="#111" font-weight="bold" font-family="'Liberation Serif', serif" textLength="30.90" lengthAdjust="spacingAndGlyphs">density:</text>
<text x="185.50" y="324.60" font-size="8.90" fill="#111" font-weight="bold" font-family="'Liberation Serif', serif" textLength="23.50" lengthAdjust="spacingAndGlyphs">Li-Air</text>
<text x="211.20" y="324.60" font-size="8.90" fill="#111" font-weight="bold" font-family="'Liberation Serif', serif" textLength="4.80" lengthAdjust="spacingAndGlyphs">&gt;</text>
<text x="218.20" y="324.60" font-size="8.90" fill="#111" font-weight="bold" font-family="'Liberation Serif', serif" textLength="15.60" lengthAdjust="spacingAndGlyphs">Li-S</text>
<text x="236.60" y="324.60" font-size="8.90" fill="#111" font-weight="bold" font-family="'Liberation Serif', serif" textLength="4.80" lengthAdjust="spacingAndGlyphs">&gt;</text>
<text x="243.00" y="324.60" font-size="8.90" fill="#111" font-weight="bold" font-family="'Liberation Serif', serif" textLength="27.00" lengthAdjust="spacingAndGlyphs">Li-CO<tspan dy="1.78" font-size="6.05">2</tspan></text>
<text x="272.20" y="324.60" font-size="8.90" fill="#111" font-weight="bold" font-family="'Liberation Serif', serif" textLength="4.80" lengthAdjust="spacingAndGlyphs">&gt;</text>
<text x="279.00" y="324.60" font-size="8.90" fill="#111" font-weight="bold" font-family="'Liberation Serif', serif" textLength="10.00" lengthAdjust="spacingAndGlyphs">Li<tspan dy="-3.20" font-size="6.05">+</tspan></text>
<text x="247.60" y="212.60" font-size="6.80" fill="#3a0a1a" font-weight="bold" font-family="'Liberation Serif', serif" textLength="7.80" lengthAdjust="spacingAndGlyphs" stroke="#3a0a1a" stroke-width="0.25">Li <tspan dy="-2.45" font-size="4.62">+</tspan></text>
<text x="239.70" y="227.50" font-size="6.80" fill="#3a0a1a" font-weight="bold" font-family="'Liberation Serif', serif" textLength="7.80" lengthAdjust="spacingAndGlyphs" stroke="#3a0a1a" stroke-width="0.25">Li <tspan dy="-2.45" font-size="4.62">+</tspan></text>
<text x="239.70" y="239.00" font-size="6.80" fill="#3a0a1a" font-weight="bold" font-family="'Liberation Serif', serif" textLength="7.80" lengthAdjust="spacingAndGlyphs" stroke="#3a0a1a" stroke-width="0.25">Li <tspan dy="-2.45" font-size="4.62">+</tspan></text>
<text x="243.80" y="251.30" font-size="6.80" fill="#3a0a1a" font-weight="bold" font-family="'Liberation Serif', serif" textLength="7.80" lengthAdjust="spacingAndGlyphs" stroke="#3a0a1a" stroke-width="0.25">Li <tspan dy="-2.45" font-size="4.62">+</tspan></text>
<text x="256.30" y="205.10" font-size="5.60" fill="#0a2038" font-weight="bold" font-family="'Liberation Serif', serif" textLength="5.60" lengthAdjust="spacingAndGlyphs" stroke="#0a2038" stroke-width="0.15">2e-</text>
<text x="262.60" y="194.50" font-size="6.20" fill="#2a1020" font-weight="bold" font-family="'Liberation Serif', serif" textLength="34.40" lengthAdjust="spacingAndGlyphs" stroke="#2a1020" stroke-width="0.12">nLi<tspan dy="1.24" font-size="4.22">2</tspan><tspan dy="-1.24">O</tspan><tspan dy="1.24" font-size="4.22">2</tspan><tspan dy="-1.24"> (ORR)</tspan></text>
<path d="M272.4 199 C258.8 216 258.8 238 273 255" stroke="#ffff14" stroke-width="1.8" fill="none"/>
<path d="M268.5 199.4 L273.1 197.9 L273.5 202.7" stroke="#ffff14" stroke-width="1.6" fill="none" stroke-linejoin="round" stroke-linecap="round"/>
<path d="M274.4 251.4 L273.8 256.2 L269.2 255" stroke="#ffff14" stroke-width="1.6" fill="none" stroke-linejoin="round" stroke-linecap="round"/>
<path d="M278.40 216.20 L268.20 216.20" stroke="#ffff14" stroke-width="1.60" fill="none" stroke-linecap="butt"/>
<path d="M270.40 213.90 L267.40 216.20 L270.40 218.50" stroke="#ffff14" stroke-width="1.52" fill="none" stroke-linejoin="miter" stroke-linecap="round"/>
<text x="278.80" y="218.80" font-size="7.90" fill="#2a5fd0" font-weight="bold" font-family="'Liberation Serif', serif" textLength="8.60" lengthAdjust="spacingAndGlyphs">O<tspan dy="1.58" font-size="5.37">2</tspan></text>
<path d="M278.40 227.70 L268.20 227.70" stroke="#ffff14" stroke-width="1.60" fill="none" stroke-linecap="butt"/>
<path d="M270.40 225.40 L267.40 227.70 L270.40 230.00" stroke="#ffff14" stroke-width="1.52" fill="none" stroke-linejoin="miter" stroke-linecap="round"/>
<text x="278.80" y="230.30" font-size="7.90" fill="#2a5fd0" font-weight="bold" font-family="'Liberation Serif', serif" textLength="8.60" lengthAdjust="spacingAndGlyphs">O<tspan dy="1.58" font-size="5.37">2</tspan></text>
<path d="M278.40 243.50 L268.20 243.50" stroke="#ffff14" stroke-width="1.60" fill="none" stroke-linecap="butt"/>
<path d="M270.40 241.20 L267.40 243.50 L270.40 245.80" stroke="#ffff14" stroke-width="1.52" fill="none" stroke-linejoin="miter" stroke-linecap="round"/>
<text x="278.80" y="246.10" font-size="7.90" fill="#2a5fd0" font-weight="bold" font-family="'Liberation Serif', serif" textLength="8.60" lengthAdjust="spacingAndGlyphs">O<tspan dy="1.58" font-size="5.37">2</tspan></text>
<text x="257.00" y="260.00" font-size="6.20" fill="#2a1020" font-weight="bold" font-family="'Liberation Serif', serif" textLength="40.00" lengthAdjust="spacingAndGlyphs" stroke="#2a1020" stroke-width="0.12">nLi <tspan dy="-2.23" font-size="4.22">+</tspan><tspan dy="2.23"> nO</tspan><tspan dy="1.24" font-size="4.22">2</tspan><tspan dy="-1.24"> (OER)</tspan></text>
<text x="215.00" y="298.80" font-size="9.20" fill="#111" font-weight="bold" font-family="'Liberation Serif', serif" textLength="21.00" lengthAdjust="spacingAndGlyphs">Li-O<tspan dy="1.84" font-size="6.26">2</tspan></text>
<text x="245.00" y="298.30" font-size="7.70" fill="#d0162c" font-weight="bold" font-family="'Liberation Serif', serif" textLength="40.00" lengthAdjust="spacingAndGlyphs">3500 Wh kg <tspan dy="-2.77" font-size="5.24">-1</tspan></text>
<text x="183.00" y="309.20" font-size="7.20" fill="#111" font-weight="bold" font-family="'Liberation Serif', serif" textLength="99.00" lengthAdjust="spacingAndGlyphs">2Li + O<tspan dy="1.44" font-size="4.90">2</tspan><tspan dy="-1.44"> </tspan><tspan font-family="'DejaVu Sans', sans-serif" font-size="9.00">↔</tspan> Li<tspan dy="1.44" font-size="4.90">2</tspan><tspan dy="-1.44">O</tspan><tspan dy="1.44" font-size="4.90">2</tspan><tspan dy="-1.44"> : E° = 2.91 V</tspan></text>
<text x="313.80" y="15.00" font-size="9.80" fill="#111" font-weight="bold" font-family="'Liberation Serif', serif" textLength="6.20" lengthAdjust="spacingAndGlyphs" stroke="#111" stroke-width="0.25">B</text>
<path d="M351.60 24.20 H517.00" stroke="#dadada" stroke-width="0.8" stroke-dasharray="1 0.8"/>
<path d="M351.60 38.50 H517.00" stroke="#dadada" stroke-width="0.8" stroke-dasharray="1 0.8"/>
<path d="M351.60 52.70 H517.00" stroke="#dadada" stroke-width="0.8" stroke-dasharray="1 0.8"/>
<path d="M351.60 66.70 H517.00" stroke="#dadada" stroke-width="0.8" stroke-dasharray="1 0.8"/>
<path d="M351.60 80.60 H517.00" stroke="#ecc0c0" stroke-width="0.8" stroke-dasharray="1 0.8"/>
<path d="M351.60 95.00 H517.00" stroke="#dadada" stroke-width="0.8" stroke-dasharray="1 0.8"/>
<path d="M351.60 109.10 H517.00" stroke="#dadada" stroke-width="0.8" stroke-dasharray="1 0.8"/>
<polyline points="359.47,103.20 367.74,98.70 376.01,96.90 384.28,95.60 392.55,94.70 400.82,94.20 409.09,93.90 417.36,93.70 425.63,93.60 433.90,93.50 442.17,93.50 450.44,93.40 458.71,93.40 466.98,93.30 475.25,93.30 483.52,93.30 491.79,93.20 500.06,93.20 508.33,93.10 516.60,93.10" fill="none" stroke="#12d43c" stroke-width="1.8" stroke-linejoin="round"/>
<polygon points="359.47,100.50 361.87,104.90 357.07,104.90" fill="#12d43c"/>
<polygon points="367.74,96.00 370.14,100.40 365.34,100.40" fill="#12d43c"/>
<polygon points="376.01,94.20 378.41,98.60 373.61,98.60" fill="#12d43c"/>
<polygon points="384.28,92.90 386.68,97.30 381.88,97.30" fill="#12d43c"/>
<polygon points="392.55,92.00 394.95,96.40 390.15,96.40" fill="#12d43c"/>
<polygon points="400.82,91.50 403.22,95.90 398.42,95.90" fill="#12d43c"/>
<polygon points="409.09,91.20 411.49,95.60 406.69,95.60" fill="#12d43c"/>
<polygon points="417.36,91.00 419.76,95.40 414.96,95.40" fill="#12d43c"/>
<polygon points="425.63,90.90 428.03,95.30 423.23,95.30" fill="#12d43c"/>
<polygon points="433.90,90.80 436.30,95.20 431.50,95.20" fill="#12d43c"/>
<polygon points="442.17,90.80 444.57,95.20 439.77,95.20" fill="#12d43c"/>
<polygon points="450.44,90.70 452.84,95.10 448.04,95.10" fill="#12d43c"/>
<polygon points="458.71,90.70 461.11,95.10 456.31,95.10" fill="#12d43c"/>
<polygon points="466.98,90.60 469.38,95.00 464.58,95.00" fill="#12d43c"/>
<polygon points="475.25,90.60 477.65,95.00 472.85,95.00" fill="#12d43c"/>
<polygon points="483.52,90.60 485.92,95.00 481.12,95.00" fill="#12d43c"/>
<polygon points="491.79,90.50 494.19,94.90 489.39,94.90" fill="#12d43c"/>
<polygon points="500.06,90.50 502.46,94.90 497.66,94.90" fill="#12d43c"/>
<polygon points="508.33,90.40 510.73,94.80 505.93,94.80" fill="#12d43c"/>
<polygon points="516.60,90.40 519.00,94.80 514.20,94.80" fill="#12d43c"/>
<polyline points="359.47,112.70 367.74,104.00 376.01,97.60 384.28,92.20 392.55,87.40 400.82,83.50 409.09,79.20 417.36,75.60 425.63,72.70 433.90,70.10 442.17,68.20 450.44,67.00 458.71,65.60 466.98,64.30 475.25,63.30 483.52,62.30 491.79,61.40 500.06,60.60 508.33,59.80 516.60,59.10" fill="none" stroke="#f47a1c" stroke-width="1.8" stroke-linejoin="round"/>
<circle cx="359.47" cy="112.70" r="2.5" fill="#f47a1c"/>
<circle cx="367.74" cy="104.00" r="2.5" fill="#f47a1c"/>
<circle cx="376.01" cy="97.60" r="2.5" fill="#f47a1c"/>
<circle cx="384.28" cy="92.20" r="2.5" fill="#f47a1c"/>
<circle cx="392.55" cy="87.40" r="2.5" fill="#f47a1c"/>
<circle cx="400.82" cy="83.50" r="2.5" fill="#f47a1c"/>
<circle cx="409.09" cy="79.20" r="2.5" fill="#f47a1c"/>
<circle cx="417.36" cy="75.60" r="2.5" fill="#f47a1c"/>
<circle cx="425.63" cy="72.70" r="2.5" fill="#f47a1c"/>
<circle cx="433.90" cy="70.10" r="2.5" fill="#f47a1c"/>
<circle cx="442.17" cy="68.20" r="2.5" fill="#f47a1c"/>
<circle cx="450.44" cy="67.00" r="2.5" fill="#f47a1c"/>
<circle cx="458.71" cy="65.60" r="2.5" fill="#f47a1c"/>
<circle cx="466.98" cy="64.30" r="2.5" fill="#f47a1c"/>
<circle cx="475.25" cy="63.30" r="2.5" fill="#f47a1c"/>
<circle cx="483.52" cy="62.30" r="2.5" fill="#f47a1c"/>
<circle cx="491.79" cy="61.40" r="2.5" fill="#f47a1c"/>
<circle cx="500.06" cy="60.60" r="2.5" fill="#f47a1c"/>
<circle cx="508.33" cy="59.80" r="2.5" fill="#f47a1c"/>
<circle cx="516.60" cy="59.10" r="2.5" fill="#f47a1c"/>
<polyline points="359.47,108.20 367.74,96.40 376.01,86.40 384.28,77.30 392.55,69.60 400.82,63.60 409.09,58.20 417.36,53.00 425.63,48.70 433.90,44.50 442.17,40.90 450.44,37.70 458.71,34.70 466.98,32.10 475.25,29.60 483.52,27.60 491.79,25.50 500.06,23.40 508.33,21.80 516.60,20.40" fill="none" stroke="#17a4c8" stroke-width="1.8" stroke-linejoin="round"/>
<rect x="357.07" y="105.80" width="4.8" height="4.8" fill="#2cc2e6"/>
<rect x="365.34" y="94.00" width="4.8" height="4.8" fill="#2cc2e6"/>
<rect x="373.61" y="84.00" width="4.8" height="4.8" fill="#2cc2e6"/>
<rect x="381.88" y="74.90" width="4.8" height="4.8" fill="#2cc2e6"/>
<rect x="390.15" y="67.20" width="4.8" height="4.8" fill="#2cc2e6"/>
<rect x="398.42" y="61.20" width="4.8" height="4.8" fill="#2cc2e6"/>
<rect x="406.69" y="55.80" width="4.8" height="4.8" fill="#2cc2e6"/>
<rect x="414.96" y="50.60" width="4.8" height="4.8" fill="#2cc2e6"/>
<rect x="423.23" y="46.30" width="4.8" height="4.8" fill="#2cc2e6"/>
<rect x="431.50" y="42.10" width="4.8" height="4.8" fill="#2cc2e6"/>
<rect x="439.77" y="38.50" width="4.8" height="4.8" fill="#2cc2e6"/>
<rect x="448.04" y="35.30" width="4.8" height="4.8" fill="#2cc2e6"/>
<rect x="456.31" y="32.30" width="4.8" height="4.8" fill="#2cc2e6"/>
<rect x="464.58" y="29.70" width="4.8" height="4.8" fill="#2cc2e6"/>
<rect x="472.85" y="27.20" width="4.8" height="4.8" fill="#2cc2e6"/>
<rect x="481.12" y="25.20" width="4.8" height="4.8" fill="#2cc2e6"/>
<rect x="489.39" y="23.10" width="4.8" height="4.8" fill="#2cc2e6"/>
<rect x="497.66" y="21.00" width="4.8" height="4.8" fill="#2cc2e6"/>
<rect x="505.93" y="19.40" width="4.8" height="4.8" fill="#2cc2e6"/>
<rect x="514.20" y="18.00" width="4.8" height="4.8" fill="#2cc2e6"/>
<rect x="351.60" y="10.10" width="165.40" height="113.90" fill="none" stroke="#2a2a2a" stroke-width="1.1"/>
<text x="345.80" y="11.80" font-size="5.90" fill="#111" font-weight="bold" font-family="'Liberation Sans', sans-serif" text-anchor="end" stroke="#111" stroke-width="0.10">700</text>
<text x="345.80" y="28.00" font-size="5.90" fill="#111" font-weight="bold" font-family="'Liberation Sans', sans-serif" text-anchor="end" stroke="#111" stroke-width="0.10">600</text>
<text x="345.80" y="44.20" font-size="5.90" fill="#111" font-weight="bold" font-family="'Liberation Sans', sans-serif" text-anchor="end" stroke="#111" stroke-width="0.10">500</text>
<text x="345.80" y="60.40" font-size="5.90" fill="#111" font-weight="bold" font-family="'Liberation Sans', sans-serif" text-anchor="end" stroke="#111" stroke-width="0.10">400</text>
<text x="345.80" y="76.60" font-size="5.90" fill="#111" font-weight="bold" font-family="'Liberation Sans', sans-serif" text-anchor="end" stroke="#111" stroke-width="0.10">300</text>
<text x="345.80" y="92.80" font-size="5.90" fill="#111" font-weight="bold" font-family="'Liberation Sans', sans-serif" text-anchor="end" stroke="#111" stroke-width="0.10">200</text>
<text x="345.80" y="109.00" font-size="5.90" fill="#111" font-weight="bold" font-family="'Liberation Sans', sans-serif" text-anchor="end" stroke="#111" stroke-width="0.10">100</text>
<text x="345.80" y="125.20" font-size="5.90" fill="#111" font-weight="bold" font-family="'Liberation Sans', sans-serif" text-anchor="end" stroke="#111" stroke-width="0.10">0</text>
<text x="351.20" y="134.40" font-size="6.00" fill="#111" font-weight="bold" font-family="'Liberation Sans', sans-serif" text-anchor="middle">0</text>
<text x="367.74" y="134.40" font-size="6.00" fill="#111" font-weight="bold" font-family="'Liberation Sans', sans-serif" text-anchor="middle">2</text>
<text x="384.28" y="134.40" font-size="6.00" fill="#111" font-weight="bold" font-family="'Liberation Sans', sans-serif" text-anchor="middle">4</text>
<text x="400.82" y="134.40" font-size="6.00" fill="#111" font-weight="bold" font-family="'Liberation Sans', sans-serif" text-anchor="middle">6</text>
<text x="417.36" y="134.40" font-size="6.00" fill="#111" font-weight="bold" font-family="'Liberation Sans', sans-serif" text-anchor="middle">8</text>
<text x="433.90" y="134.40" font-size="6.00" fill="#111" font-weight="bold" font-family="'Liberation Sans', sans-serif" text-anchor="middle">10</text>
<text x="450.44" y="134.40" font-size="6.00" fill="#111" font-weight="bold" font-family="'Liberation Sans', sans-serif" text-anchor="middle">12</text>
<text x="466.98" y="134.40" font-size="6.00" fill="#111" font-weight="bold" font-family="'Liberation Sans', sans-serif" text-anchor="middle">14</text>
<text x="483.52" y="134.40" font-size="6.00" fill="#111" font-weight="bold" font-family="'Liberation Sans', sans-serif" text-anchor="middle">16</text>
<text x="500.06" y="134.40" font-size="6.00" fill="#111" font-weight="bold" font-family="'Liberation Sans', sans-serif" text-anchor="middle">18</text>
<text x="516.60" y="134.40" font-size="6.00" fill="#111" font-weight="bold" font-family="'Liberation Sans', sans-serif" text-anchor="middle">20</text>
<path d="M520 24.20 H521.6" stroke="#444" stroke-width="0.7"/>
<text x="523.60" y="26.30" font-size="6.00" fill="#111" font-weight="bold" font-family="'Liberation Sans', sans-serif" textLength="9.40" lengthAdjust="spacingAndGlyphs">700</text>
<path d="M520 38.60 H521.6" stroke="#444" stroke-width="0.7"/>
<text x="523.60" y="40.70" font-size="6.00" fill="#111" font-weight="bold" font-family="'Liberation Sans', sans-serif" textLength="9.40" lengthAdjust="spacingAndGlyphs">600</text>
<path d="M520 53.20 H521.6" stroke="#444" stroke-width="0.7"/>
<text x="523.60" y="55.30" font-size="6.00" fill="#111" font-weight="bold" font-family="'Liberation Sans', sans-serif" textLength="9.40" lengthAdjust="spacingAndGlyphs">500</text>
<path d="M520 67.40 H521.6" stroke="#444" stroke-width="0.7"/>
<text x="523.60" y="69.50" font-size="6.00" fill="#111" font-weight="bold" font-family="'Liberation Sans', sans-serif" textLength="9.40" lengthAdjust="spacingAndGlyphs">400</text>
<path d="M520 81.30 H521.6" stroke="#444" stroke-width="0.7"/>
<text x="523.60" y="83.40" font-size="6.00" fill="#111" font-weight="bold" font-family="'Liberation Sans', sans-serif" textLength="9.40" lengthAdjust="spacingAndGlyphs">300</text>
<path d="M520 95.60 H521.6" stroke="#444" stroke-width="0.7"/>
<text x="523.60" y="97.70" font-size="6.00" fill="#111" font-weight="bold" font-family="'Liberation Sans', sans-serif" textLength="9.40" lengthAdjust="spacingAndGlyphs">200</text>
<path d="M520 109.80 H521.6" stroke="#444" stroke-width="0.7"/>
<text x="523.60" y="111.90" font-size="6.00" fill="#111" font-weight="bold" font-family="'Liberation Sans', sans-serif" textLength="9.40" lengthAdjust="spacingAndGlyphs">100</text>
<text x="330.00" y="114.20" font-size="7.50" fill="#4a4a4a" font-weight="normal" font-family="'Liberation Serif', serif" textLength="95.60" lengthAdjust="spacingAndGlyphs" transform="rotate(-90.00 330.00 114.20)">Energy density (Wh kg-1)</text>
<text x="540.30" y="15.00" font-size="7.80" fill="#333" font-weight="normal" font-family="'Liberation Serif', serif" textLength="113.40" lengthAdjust="spacingAndGlyphs" transform="rotate(90.00 540.30 15.00)">Estimated  driving  distance  (km)</text>
<text x="389.00" y="144.40" font-size="8.30" fill="#444" font-weight="normal" font-family="'Liberation Serif', serif" textLength="93.00" lengthAdjust="spacingAndGlyphs" word-spacing="1.20">Areal capacity (mAh cm<tspan dy="-2.99" font-size="5.64">-2</tspan><tspan dy="2.99">)</tspan></text>
<text x="418.60" y="44.60" font-size="5.30" fill="#1f2d5c" font-weight="bold" font-family="'Liberation Sans', sans-serif" textLength="32.50" lengthAdjust="spacingAndGlyphs" transform="rotate(-19.50 418.60 44.60)" stroke="#1f2d5c" stroke-width="0.20">Li-Air Battery</text>
<text x="419.60" y="70.40" font-size="5.30" fill="#f08a3c" font-weight="bold" font-family="'Liberation Sans', sans-serif" textLength="41.00" lengthAdjust="spacingAndGlyphs" transform="rotate(-14.00 419.60 70.40)" stroke="#f08a3c" stroke-width="0.20">Li-Sulfur Battery</text>
<text x="421.00" y="89.60" font-size="5.40" fill="#16a636" font-weight="bold" font-family="'Liberation Sans', sans-serif" textLength="33.50" lengthAdjust="spacingAndGlyphs" stroke="#16a636" stroke-width="0.20">Li-Ion Battery</text>
<text x="317.70" y="157.80" font-size="9.40" fill="#111" font-weight="bold" font-family="'Liberation Serif', serif" textLength="6.80" lengthAdjust="spacingAndGlyphs" stroke="#111" stroke-width="0.20">C</text>
<rect x="352.90" y="278.40" width="17.50" height="3.90" fill="#2ac8f2" stroke="#1a9cc8" stroke-width="0.5"/>
<rect x="375.20" y="277.90" width="17.40" height="4.40" fill="#2ac8f2" stroke="#1a9cc8" stroke-width="0.5"/>
<rect x="397.60" y="276.80" width="17.10" height="5.50" fill="#2ac8f2" stroke="#1a9cc8" stroke-width="0.5"/>
<rect x="420.60" y="269.30" width="17.60" height="13.00" fill="#2ac8f2" stroke="#1a9cc8" stroke-width="0.5"/>
<rect x="442.50" y="249.70" width="16.70" height="32.60" fill="#fbd0a8" stroke="#b98a5a" stroke-width="0.5"/>
<rect x="442.50" y="263.90" width="16.70" height="18.40" fill="#f8901f" stroke="#c87418" stroke-width="0.5"/>
<rect x="464.80" y="236.70" width="16.80" height="45.60" fill="#fbd0a8" stroke="#b98a5a" stroke-width="0.5"/>
<rect x="464.80" y="261.10" width="16.80" height="21.20" fill="#f8901f" stroke="#c87418" stroke-width="0.5"/>
<rect x="487.50" y="215.50" width="16.80" height="66.80" fill="#fbd0a8" stroke="#b98a5a" stroke-width="0.5"/>
<rect x="487.50" y="247.40" width="16.80" height="34.90" fill="#f8901f" stroke="#c87418" stroke-width="0.5"/>
<rect x="509.50" y="185.30" width="17.10" height="97.00" fill="#f4c6c6" stroke="#c09a9a" stroke-width="0.5"/>
<rect x="509.50" y="228.00" width="17.10" height="54.30" fill="#d4184a" stroke="#a01038" stroke-width="0.5"/>
<path d="M346.30 153.80 H531.90 V282.30 H346.30 Z" fill="none" stroke="#2a2a2a" stroke-width="1"/>
<path d="M346.30 173.20 h3" stroke="#2a2a2a" stroke-width="0.9"/>
<text x="344.00" y="175.50" font-size="7.20" fill="#111" font-weight="bold" font-family="'Liberation Serif', serif" text-anchor="end" stroke="#111" stroke-width="0.12">1000</text>
<path d="M346.30 195.20 h3" stroke="#2a2a2a" stroke-width="0.9"/>
<text x="344.00" y="197.50" font-size="7.20" fill="#111" font-weight="bold" font-family="'Liberation Serif', serif" text-anchor="end" stroke="#111" stroke-width="0.12">800</text>
<path d="M346.30 216.80 h3" stroke="#2a2a2a" stroke-width="0.9"/>
<text x="344.00" y="219.10" font-size="7.20" fill="#111" font-weight="bold" font-family="'Liberation Serif', serif" text-anchor="end" stroke="#111" stroke-width="0.12">600</text>
<path d="M346.30 238.80 h3" stroke="#2a2a2a" stroke-width="0.9"/>
<text x="344.00" y="241.10" font-size="7.20" fill="#111" font-weight="bold" font-family="'Liberation Serif', serif" text-anchor="end" stroke="#111" stroke-width="0.12">400</text>
<path d="M346.30 260.50 h3" stroke="#2a2a2a" stroke-width="0.9"/>
<text x="344.00" y="262.80" font-size="7.20" fill="#111" font-weight="bold" font-family="'Liberation Serif', serif" text-anchor="end" stroke="#111" stroke-width="0.12">200</text>
<path d="M346.30 282.30 h3" stroke="#2a2a2a" stroke-width="0.9"/>
<text x="344.00" y="283.50" font-size="7.20" fill="#111" font-weight="bold" font-family="'Liberation Serif', serif" text-anchor="end" stroke="#111" stroke-width="0.12">0</text>
<text x="327.00" y="267.60" font-size="7.40" fill="#444" font-weight="normal" font-family="'Liberation Serif', serif" textLength="90.40" lengthAdjust="spacingAndGlyphs" transform="rotate(-90.00 327.00 267.60)">Specific  energy (Wh kg-1)</text>
<circle cx="429.3" cy="255.2" r="12.3" fill="none" stroke="#b233b0" stroke-width="2.4"/>
<text x="419.20" y="257.50" font-size="6.40" fill="#b233b0" font-weight="normal" font-family="'Liberation Serif', serif" textLength="20.30" lengthAdjust="spacingAndGlyphs">160 Km</text>
<text x="350.70" y="274.20" font-size="7.10" fill="#111" font-weight="bold" font-family="'Liberation Serif', serif" textLength="19.70" lengthAdjust="spacingAndGlyphs">50 Km</text>
<text x="375.20" y="274.50" font-size="7.10" fill="#111" font-weight="bold" font-family="'Liberation Serif', serif" textLength="17.60" lengthAdjust="spacingAndGlyphs">80 Km</text>
<text x="395.50" y="274.50" font-size="7.10" fill="#111" font-weight="bold" font-family="'Liberation Serif', serif" textLength="24.00" lengthAdjust="spacingAndGlyphs">100 Km</text>
<text x="434.80" y="243.80" font-size="7.10" fill="#111" font-weight="bold" font-family="'Liberation Serif', serif" textLength="27.20" lengthAdjust="spacingAndGlyphs">&gt; 200 Km</text>
<text x="457.30" y="233.20" font-size="7.10" fill="#111" font-weight="bold" font-family="'Liberation Serif', serif" textLength="27.90" lengthAdjust="spacingAndGlyphs">&gt; 225 Km</text>
<text x="477.60" y="211.10" font-size="7.10" fill="#111" font-weight="bold" font-family="'Liberation Serif', serif" textLength="27.70" lengthAdjust="spacingAndGlyphs">&gt; 400 Km</text>
<text x="502.00" y="180.50" font-size="7.10" fill="#111" font-weight="bold" font-family="'Liberation Serif', serif" textLength="27.30" lengthAdjust="spacingAndGlyphs">&gt; 550 Km</text>
<text x="346.40" y="289.90" font-size="6.90" fill="#111" font-weight="bold" font-family="'Liberation Serif', serif" textLength="22.90" lengthAdjust="spacingAndGlyphs">Pb- Acid</text>
<text x="375.40" y="289.90" font-size="6.90" fill="#111" font-weight="bold" font-family="'Liberation Serif', serif" textLength="15.30" lengthAdjust="spacingAndGlyphs">Ni-Cd</text>
<text x="396.10" y="289.90" font-size="6.90" fill="#111" font-weight="bold" font-family="'Liberation Serif', serif" textLength="17.90" lengthAdjust="spacingAndGlyphs">Ni-MH</text>
<text x="424.90" y="289.90" font-size="6.90" fill="#111" font-weight="bold" font-family="'Liberation Serif', serif" textLength="8.10" lengthAdjust="spacingAndGlyphs">Li <tspan dy="-2.48" font-size="4.69">+</tspan></text>
<text x="441.30" y="290.20" font-size="6.90" fill="#111" font-weight="bold" font-family="'Liberation Serif', serif" textLength="17.20" lengthAdjust="spacingAndGlyphs">Future</text>
<text x="441.30" y="298.30" font-size="6.90" fill="#111" font-weight="bold" font-family="'Liberation Serif', serif" textLength="9.90" lengthAdjust="spacingAndGlyphs">Li +</text>
<text x="465.50" y="290.20" font-size="6.90" fill="#111" font-weight="bold" font-family="'Liberation Serif', serif" textLength="15.40" lengthAdjust="spacingAndGlyphs">Zn-Air</text>
<text x="490.40" y="290.20" font-size="6.90" fill="#111" font-weight="bold" font-family="'Liberation Serif', serif" textLength="9.40" lengthAdjust="spacingAndGlyphs">Li-S</text>
<text x="510.40" y="290.20" font-size="6.90" fill="#111" font-weight="bold" font-family="'Liberation Serif', serif" textLength="16.10" lengthAdjust="spacingAndGlyphs">Li-Air</text>
<text x="302.00" y="321.70" font-size="6.60" fill="#111" font-weight="bold" font-family="'Liberation Serif', serif" textLength="50.20" lengthAdjust="spacingAndGlyphs">Price US$ (KW h<tspan dy="-2.38" font-size="4.49">-1</tspan><tspan dy="2.38">)</tspan></text>
<rect x="353.70" y="316.50" width="84.10" height="8.00" fill="#2ac8f2" stroke="#1a6a88" stroke-width="0.5"/>
<rect x="442.70" y="316.30" width="61.90" height="8.10" fill="#f8901f" stroke="#9a5a10" stroke-width="0.5"/>
<rect x="510.00" y="316.30" width="17.50" height="8.10" fill="#d4184a" stroke="#7a0a28" stroke-width="0.5"/>
<text x="361.60" y="313.20" font-size="6.60" fill="#222" font-weight="bold" font-family="'Liberation Serif', serif" text-anchor="middle">200</text>
<text x="383.90" y="313.20" font-size="6.60" fill="#222" font-weight="bold" font-family="'Liberation Serif', serif" text-anchor="middle">600</text>
<text x="404.80" y="313.20" font-size="6.60" fill="#222" font-weight="bold" font-family="'Liberation Serif', serif" text-anchor="middle">900</text>
<text x="425.60" y="313.20" font-size="6.60" fill="#222" font-weight="bold" font-family="'Liberation Serif', serif" text-anchor="middle">600</text>
<text x="446.40" y="313.30" font-size="6.60" fill="#222" font-weight="bold" font-family="'Liberation Serif', serif" textLength="13.10" lengthAdjust="spacingAndGlyphs">&lt; 150</text>
<text x="464.90" y="313.30" font-size="6.60" fill="#222" font-weight="bold" font-family="'Liberation Serif', serif" textLength="12.00" lengthAdjust="spacingAndGlyphs">&lt;150</text>
<text x="487.20" y="313.30" font-size="6.60" fill="#222" font-weight="bold" font-family="'Liberation Serif', serif" textLength="12.00" lengthAdjust="spacingAndGlyphs">&lt;150</text>
<text x="511.80" y="313.30" font-size="6.60" fill="#222" font-weight="bold" font-family="'Liberation Serif', serif" textLength="12.00" lengthAdjust="spacingAndGlyphs">&lt;150</text>
<text x="380.60" y="331.50" font-size="6.90" fill="#111" font-weight="bold" font-family="'Liberation Serif', serif" textLength="24.40" lengthAdjust="spacingAndGlyphs">Available</text>
<text x="446.40" y="331.50" font-size="6.90" fill="#111" font-weight="bold" font-family="'Liberation Serif', serif" textLength="53.90" lengthAdjust="spacingAndGlyphs">Under development</text>
<text x="510.00" y="331.50" font-size="6.90" fill="#111" font-weight="bold" font-family="'Liberation Serif', serif" textLength="16.70" lengthAdjust="spacingAndGlyphs">R &amp; D</text>
</g>
</svg></body></html>
